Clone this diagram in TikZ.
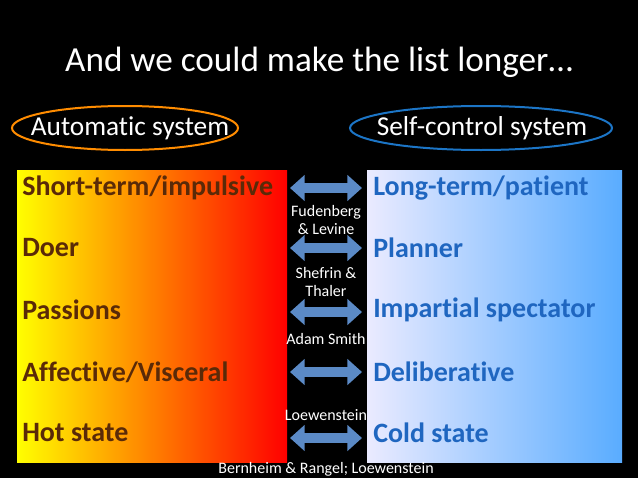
\documentclass[tikz,border=0pt]{standalone}
\usepackage{fontspec}
\setmainfont{Carlito}[Ligatures={NoCommon}]
\usetikzlibrary{arrows.meta,shapes.geometric}
\definecolor{lbl}{HTML}{5A2A08}
\definecolor{rbl}{HTML}{1F66C0}
\definecolor{arr}{HTML}{5B8AC6}
\tikzset{
 lefttxt/.style={anchor=west,font=\bfseries\fontsize{21}{23}\selectfont,text=lbl,inner sep=0},
 righttxt/.style={anchor=west,font=\bfseries\fontsize{21}{23}\selectfont,text=rbl,inner sep=0},
 smalltxt/.style={font=\fontsize{12}{14}\selectfont,text=white,align=center,inner sep=0},
 headtxt/.style={text=white,font=\fontsize{20.5}{23}\selectfont,inner sep=0},
 dbl/.style={{Triangle[width=19pt,length=11pt]}-{Triangle[width=19pt,length=11pt]},line width=7pt,draw=arr}
}
\begin{document}
\begin{tikzpicture}[x=0.75pt,y=-0.75pt]
\fill[black] (0,0) rectangle (638,478);
\useasboundingbox (0,0) rectangle (638,478);
\node[text=white,font=\fontsize{26.4}{30}\selectfont] (title) at (319,62) {And we could make the list longer…};
\draw[orange!90!yellow,line width=1.5pt] (125,128) ellipse [x radius=113, y radius=22];
\draw[rbl!90!cyan,line width=1.5pt] (481,128) ellipse [x radius=131, y radius=22];
\node[headtxt] (auto) at (130,128) {Automatic system};
\node[headtxt] (self) at (482,128) {Self-control system};
\shade[left color=yellow,right color=red,middle color=orange] (17,170) rectangle (287,462);
\shade[left color=white!92!blue,right color=blue!50!cyan!65!white] (367,170) rectangle (622,462);
\foreach \y/\l/\r/\n in {188/Short-term\slash impulsive/Long-term\slash patient/a,248/Doer/Planner/b,310/Passions/Impartial spectator/c,372/Affective\slash Visceral/Deliberative/d,433/Hot state/Cold state/e}{
 \node[lefttxt] (l\n) at (22,\y) {\l};
 \node[righttxt] (r\n) at (373,\y) {\r};
}
\foreach \n/\y in {a/188,b/248,c/312,d/372,e/438}{
 \coordinate (p\n) at (290,\y); \coordinate (q\n) at (362,\y);
 \draw[dbl] (p\n) -- (q\n);
}
\node[smalltxt] (fl) at (326,220) {Fudenberg\\\& Levine};
\node[smalltxt] (st) at (326,282) {Shefrin \&\\Thaler};
\node[smalltxt] (as) at (326,339) {Adam Smith};
\node[smalltxt] (lo) at (326,415) {Loewenstein};
\node[smalltxt] (br) at (326,469) {Bernheim \& Rangel; Loewenstein};
\end{tikzpicture}
\end{document}
